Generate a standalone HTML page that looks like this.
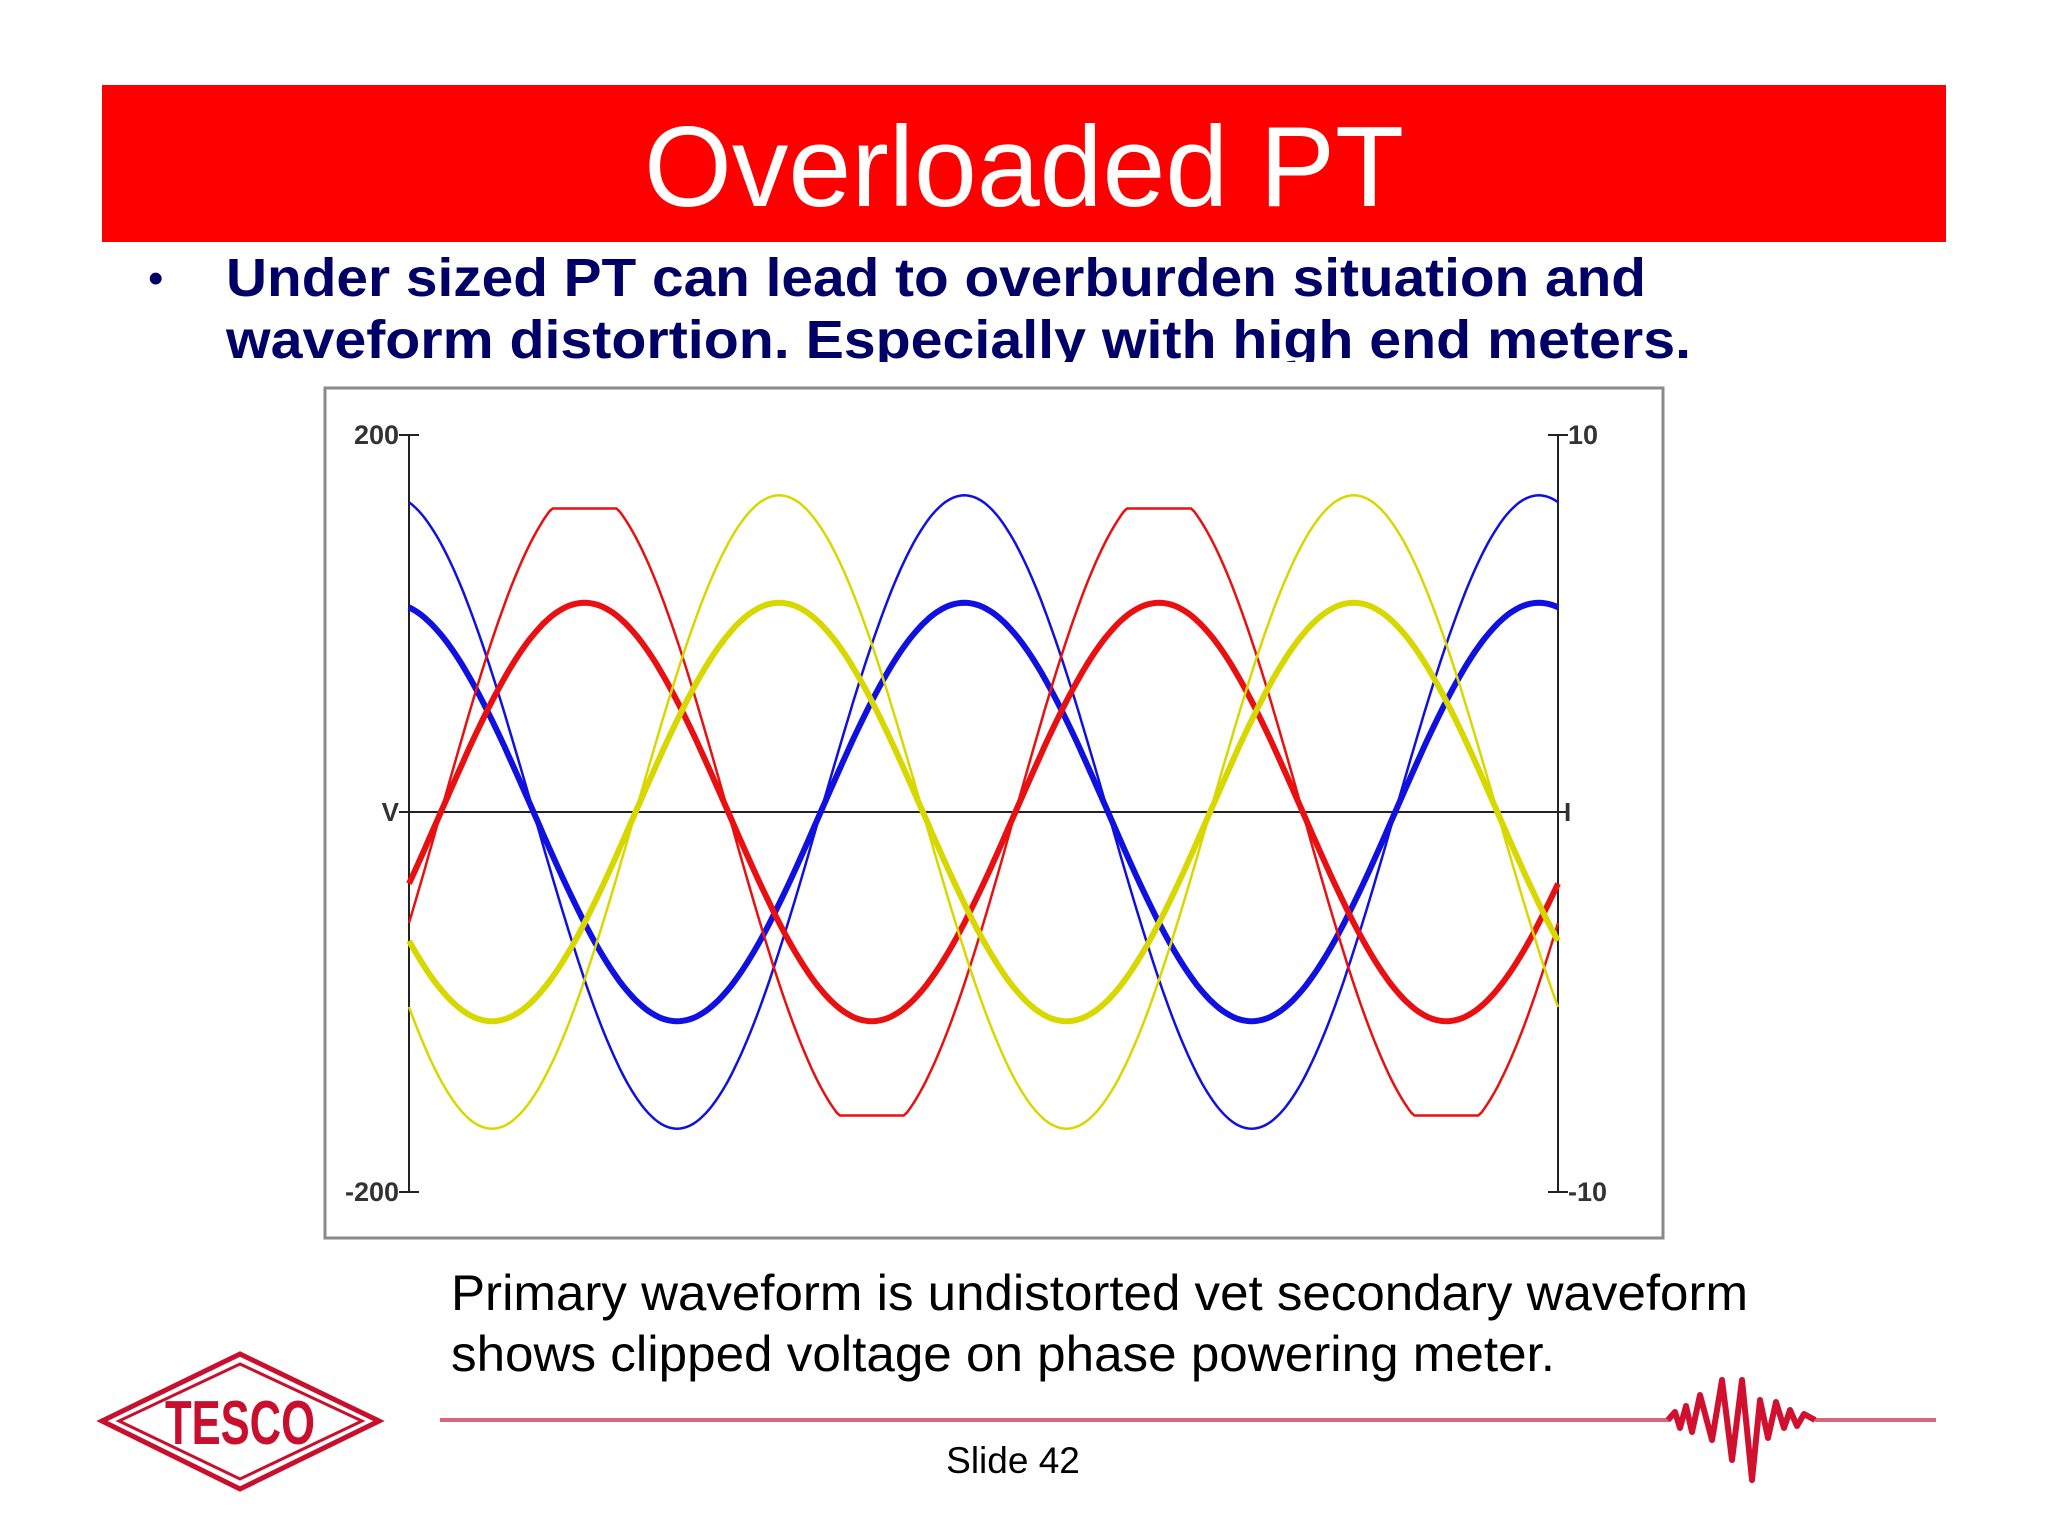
<!DOCTYPE html>
<html><head><meta charset="utf-8"><style>
html,body{margin:0;padding:0;background:#fff;}
svg{display:block;font-family:"Liberation Sans",sans-serif;}
</style></head><body>
<svg id="slide" width="2048" height="1536" viewBox="0 0 2048 1536">
  <rect x="102" y="85" width="1844" height="157" fill="#ff0000"/>
  <text x="1024" y="206" text-anchor="middle" font-size="114" fill="#fff" textLength="760" lengthAdjust="spacingAndGlyphs">Overloaded PT</text>
  <text x="148" y="293" font-size="44" fill="#000066">•</text>
  <svg x="0" y="240" width="2048" height="122" overflow="hidden">
    <text font-size="54" font-weight="bold" fill="#000066">
      <tspan x="226" y="56" textLength="1420" lengthAdjust="spacingAndGlyphs">Under sized PT can lead to overburden situation and</tspan>
      <tspan x="226" y="118" textLength="1465" lengthAdjust="spacingAndGlyphs">waveform distortion.  Especially with high end meters.</tspan>
    </text>
  </svg>
  <rect x="325" y="388" width="1338" height="850" fill="#fff" stroke="#8a8a8a" stroke-width="3"/>
  <g id="chart"></g>

  <text x="451" y="1310" font-size="50" fill="#000" textLength="1297" lengthAdjust="spacingAndGlyphs">Primary waveform is undistorted vet secondary waveform</text>
  <text x="451" y="1371" font-size="50" fill="#000" textLength="1104" lengthAdjust="spacingAndGlyphs">shows clipped voltage on phase powering meter.</text>

  <line x1="440" y1="1420" x2="1670" y2="1420" stroke="#d6667a" stroke-width="4"/>
  <line x1="1815" y1="1420" x2="1936" y2="1420" stroke="#d6667a" stroke-width="4"/>
  <path d="M1668 1420 L1675 1412 L1680 1428 L1686 1406 L1692 1432 L1700 1395 L1712 1440 L1722 1380 L1732 1460 L1742 1380 L1752 1480 L1760 1400 L1768 1438 L1776 1402 L1784 1428 L1790 1410 L1797 1426 L1804 1414 L1815 1420" fill="none" stroke="#d0102e" stroke-width="6" stroke-linejoin="round"/>
  <text x="1013" y="1473" text-anchor="middle" font-size="37" fill="#000">Slide 42</text>

  <g>
    <polygon points="240,1354 379,1421 240,1489 102,1421" fill="none" stroke="#c8102e" stroke-width="5"/>
    <polygon points="240,1364 362,1421 240,1479 119,1421" fill="none" stroke="#c8102e" stroke-width="3"/>
    <text x="240" y="1444" text-anchor="middle" font-size="62" font-weight="bold" fill="#c8102e" textLength="150" lengthAdjust="spacingAndGlyphs">TESCO</text>
  </g>
</svg>
<script>
// Chart data
const phaseNames = ['blue', 'red', 'yellow'];
const phaseAnglesDeg = [348, 110, 232];          // angle of peak within cycle
const voltageAmplitude = [168, 172, 168];         // V (thin traces)
const voltageClip = [200, 161, 200];              // clipping level, V
const currentAmplitude = [5.55, 5.55, 5.55];      // A (thick traces)
const vTicks = ['200', '-200'];
const iTicks = ['10', '-10'];
const cycles = 2;

const NS = 'http://www.w3.org/2000/svg';
const g = document.getElementById('chart');
const X0 = 409, X1 = 1558, Y0 = 812, YTOP = 435, YBOT = 1192;
const colors = {blue:'#1010e0', red:'#e81010', yellow:'#d8d800'};
function xScale(deg){ return X0 + deg / (360*cycles) * (X1 - X0); }
function yV(v){ return Y0 - v / 200 * (Y0 - YTOP); }
function yI(i){ return Y0 - i / 10 * (Y0 - YTOP); }
function mk(tag, attrs){ const e = document.createElementNS(NS, tag); for (const k in attrs) e.setAttribute(k, attrs[k]); g.appendChild(e); return e; }

// axes
let a = mk('line', {x1:X0, y1:YTOP, x2:X0, y2:YBOT, stroke:'#222', 'stroke-width':2});


a = mk('line', {x1:X1, y1:YTOP, x2:X1, y2:YBOT, stroke:'#222', 'stroke-width':2});


a = mk('line', {x1:X0-10, y1:Y0, x2:X1+10, y2:Y0, stroke:'#222', 'stroke-width':2});


[YTOP, YBOT].forEach((y, k) => {
  let t = mk('line', {x1:X0-10, y1:y, x2:X0+10, y2:y, stroke:'#222', 'stroke-width':2});
  
  
  t = mk('line', {x1:X1-10, y1:y, x2:X1+10, y2:y, stroke:'#222', 'stroke-width':2});
  
  
  let l = mk('text', {x:X0-10, y:y+9, 'text-anchor':'end', 'font-size':27, 'font-weight':'bold', fill:'#333'});
  l.textContent = vTicks[k];
  
  
  l = mk('text', {x:X1+10, y:y+9, 'font-size':27, 'font-weight':'bold', fill:'#333'});
  l.textContent = iTicks[k];
  
  
});
let vl = mk('text', {x:X0-10, y:Y0+9, 'text-anchor':'end', 'font-size':26, 'font-weight':'bold', fill:'#333'});
vl.textContent = 'V';


let il = mk('text', {x:X1+6, y:Y0+9, 'font-size':26, 'font-weight':'bold', fill:'#333'});
il.textContent = 'I';



// traces
phaseNames.forEach((nm, p) => {
  let dv = '', di = '';
  for (let d = 0; d <= 360*cycles; d += 2) {
    const c = Math.cos((d - phaseAnglesDeg[p]) * Math.PI / 180);
    let v = voltageAmplitude[p] * c;
    v = Math.max(-voltageClip[p], Math.min(voltageClip[p], v));
    const i = currentAmplitude[p] * c;
    dv += (d ? 'L' : 'M') + xScale(d).toFixed(1) + ' ' + yV(v).toFixed(1);
    di += (d ? 'L' : 'M') + xScale(d).toFixed(1) + ' ' + yI(i).toFixed(1);
  }
  const pv = mk('path', {d:dv, fill:'none', stroke:colors[nm], 'stroke-width':2.5});
  
  
  const pi = mk('path', {d:di, fill:'none', stroke:colors[nm], 'stroke-width':6});
  
  
});
</script>
</body></html>
